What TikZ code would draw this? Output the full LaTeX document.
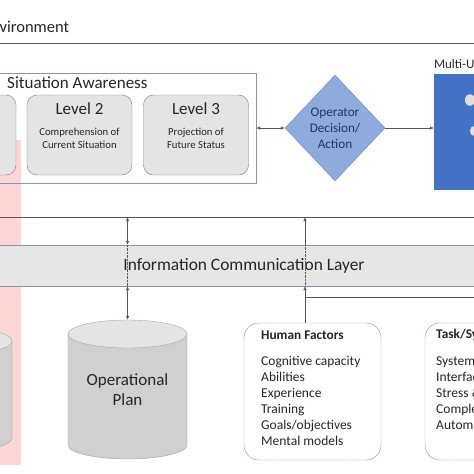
\documentclass[tikz,border=0pt]{standalone}
\usepackage{fontspec}
\setmainfont{Carlito}
\usepackage{tikz}
\usetikzlibrary{shapes.geometric,arrows.meta,positioning}

\definecolor{txtgray}{HTML}{262626}
\definecolor{linegray}{HTML}{595959}
\definecolor{frameblue}{HTML}{8497B0}
\definecolor{boxgray}{HTML}{E4E4E4}
\definecolor{bandgray}{HTML}{E6E6E6}
\definecolor{softpink}{HTML}{FFD6D6}
\definecolor{uavblue}{HTML}{4472C4}
\definecolor{diafill}{HTML}{8FAADC}
\definecolor{diadraw}{HTML}{6F8FC9}
\definecolor{navy}{HTML}{1F3864}
\definecolor{tankbody}{HTML}{D0D0D0}
\definecolor{tanktop}{HTML}{E4E4E4}

\begin{document}
\begin{tikzpicture}[x=1pt, y=-1pt, node distance=4pt and 6pt,
    every node/.style={text=txtgray},
    lvlbox/.style={draw=linegray!80, fill=boxgray, rounded corners=10pt, minimum width=105pt, minimum height=80pt},
    lvltitle/.style={inner sep=0pt, font=\fontsize{17}{20}\selectfont},
    lvlsub/.style={inner sep=0pt, align=center, font=\fontsize{10.7}{13}\selectfont},
    factorbox/.style={draw=frameblue, fill=white, rounded corners=15pt, minimum width=137pt, minimum height=137pt},
    factorlist/.style={inner sep=0pt, align=left, font=\fontsize{13.5}{16}\selectfont},
    tankline/.style={draw=gray!70, thin},
    link/.style={linegray, thin, -{Latex[length=4pt, width=3.5pt]}},
    twolink/.style={linegray, thin, {Latex[length=4pt, width=3.5pt]}-{Latex[length=4pt, width=3.5pt]}}]
\useasboundingbox (0,0) rectangle (474,474);
\clip (0,0) rectangle (474,474);

% background strip
\fill[softpink] (0,140) rectangle (21,465);

% environment frame and its title
\node[draw=linegray, minimum width=500pt, minimum height=174pt] (env) at (240,130) {};
\node[anchor=west, inner sep=0pt, font=\fontsize{16.5}{20}\selectfont] (envt) at (-17,27) {Environment};

% situation awareness
\node[draw=frameblue, minimum width=376pt, minimum height=110pt] (sa) at (68,128) {};
\node[anchor=west, inner sep=0pt, font=\fontsize{17}{20}\selectfont] (sat) at (7,83) {Situation Awareness};
\node[lvlbox] (lvl1) at (-36.5,135) {};
\node[lvlbox] (lvl2) at (79.5,135) {};
\node[lvlbox] (lvl3) at (196,135) {};
\node[lvltitle, below=8pt of lvl2.north] (lvl2t) {Level 2};
\node[lvlsub, below=13pt of lvl2t] (lvl2s) {Comprehension of\\Current Situation};
\node[lvltitle, below=8pt of lvl3.north] (lvl3t) {Level 3};
\node[lvlsub, below=13pt of lvl3t] (lvl3s) {Projection of\\Future Status};

% decision and the vehicles
\node[diamond, draw=diadraw, fill=diafill, minimum width=100pt, minimum height=106pt, inner sep=0pt,
  align=center, text=navy, font=\fontsize{13.2}{16}\selectfont] (dec) at (335,128) {Operator\\Decision/\\Action};
\node[fill=uavblue, minimum width=106pt, minimum height=116pt] (uav) at (487,132) {};
\node[anchor=south west, inner sep=0pt, font=\fontsize{13}{16}\selectfont] (uavt) at ([yshift=3pt]uav.north west) {Multi-UAV System};
\fill[gray!25] (470,100) ellipse (5pt and 6pt);
\fill[gray!25] (474,131) ellipse (4pt and 5pt);

\draw[twolink] (sa.east |- dec.west) -- (dec.west);
\draw[link] (dec.east) -- (dec.east -| uav.west);

% communication layer
\node[fill=bandgray, minimum width=500pt, minimum height=41pt, inner sep=0pt] (icl) at (237,265.5) {};
\draw[frameblue] (icl.north west) -- (icl.north east);
\draw[frameblue] (icl.south west) -- (icl.south east);
\node[font=\fontsize{17.4}{20}\selectfont] (iclt) at (244,266) {Information Communication Layer};

% plans (drawn as tanks)
\draw[tankline, fill=tankbody] (-107,341) -- (-107,438) arc[start angle=180, end angle=360, x radius=59.5pt, y radius=14pt] -- (12,341) -- cycle;
\draw[tankline, fill=tanktop] (-47.5,341) ellipse [x radius=59.5pt, y radius=14pt];
\node[minimum width=119pt, minimum height=125pt] (plan0) at (-47.5,389.5) {};

\draw[tankline, fill=tankbody] (68,334) -- (68,445) arc[start angle=180, end angle=360, x radius=59.5pt, y radius=14pt] -- (187,334) -- cycle;
\draw[tankline, fill=tanktop] (127.5,334) ellipse [x radius=59.5pt, y radius=14pt];
\node[minimum width=119pt, minimum height=139pt, align=center, font=\fontsize{17}{20}\selectfont] (plan) at (127.5,389.5) {Operational\\Plan};

% factors
\node[factorbox] (hf) at (312.5,391.5) {};
\node[anchor=west, inner sep=0pt, font=\bfseries\fontsize{13.3}{16}\selectfont] (hft) at (261,335) {Human Factors};
\node[factorlist, anchor=north west] (hfl) at (261,356) {Cognitive capacity\\Abilities\\Experience\\Training\\Goals/objectives\\Mental models};

\node[factorbox] (tf) at (493.5,391.5) {};
\node[anchor=west, inner sep=0pt, font=\bfseries\fontsize{13.3}{16}\selectfont] (tft) at (436,335) {Task/System Factors};
\node[factorlist, anchor=north west] (tfl) at (436,356) {System design\\Interface design\\Stress \& workload\\Complexity\\Automation};

% links through the layer
\coordinate (plantop) at (plan.north);
\draw[twolink] (plantop |- env.south) -- (plantop |- icl.north);
\draw[linegray, densely dotted] (plantop |- icl.north) -- (plantop |- icl.south);
\draw[twolink] (plantop |- icl.south) -- (plantop);

\coordinate (hftop) at ([xshift=-7.5pt]hf.north);
\coordinate (hfjoin) at (hftop |- 0,297);
\draw[link] (hftop) -- (hftop |- icl.south);
\draw[linegray, densely dotted] (hftop |- icl.south) -- (hftop |- icl.north);
\draw[link] (hftop |- icl.north) -- (hftop |- env.south);
\draw[linegray] (hfjoin) -- (hfjoin -| tf.east);
\end{tikzpicture}
\end{document}
